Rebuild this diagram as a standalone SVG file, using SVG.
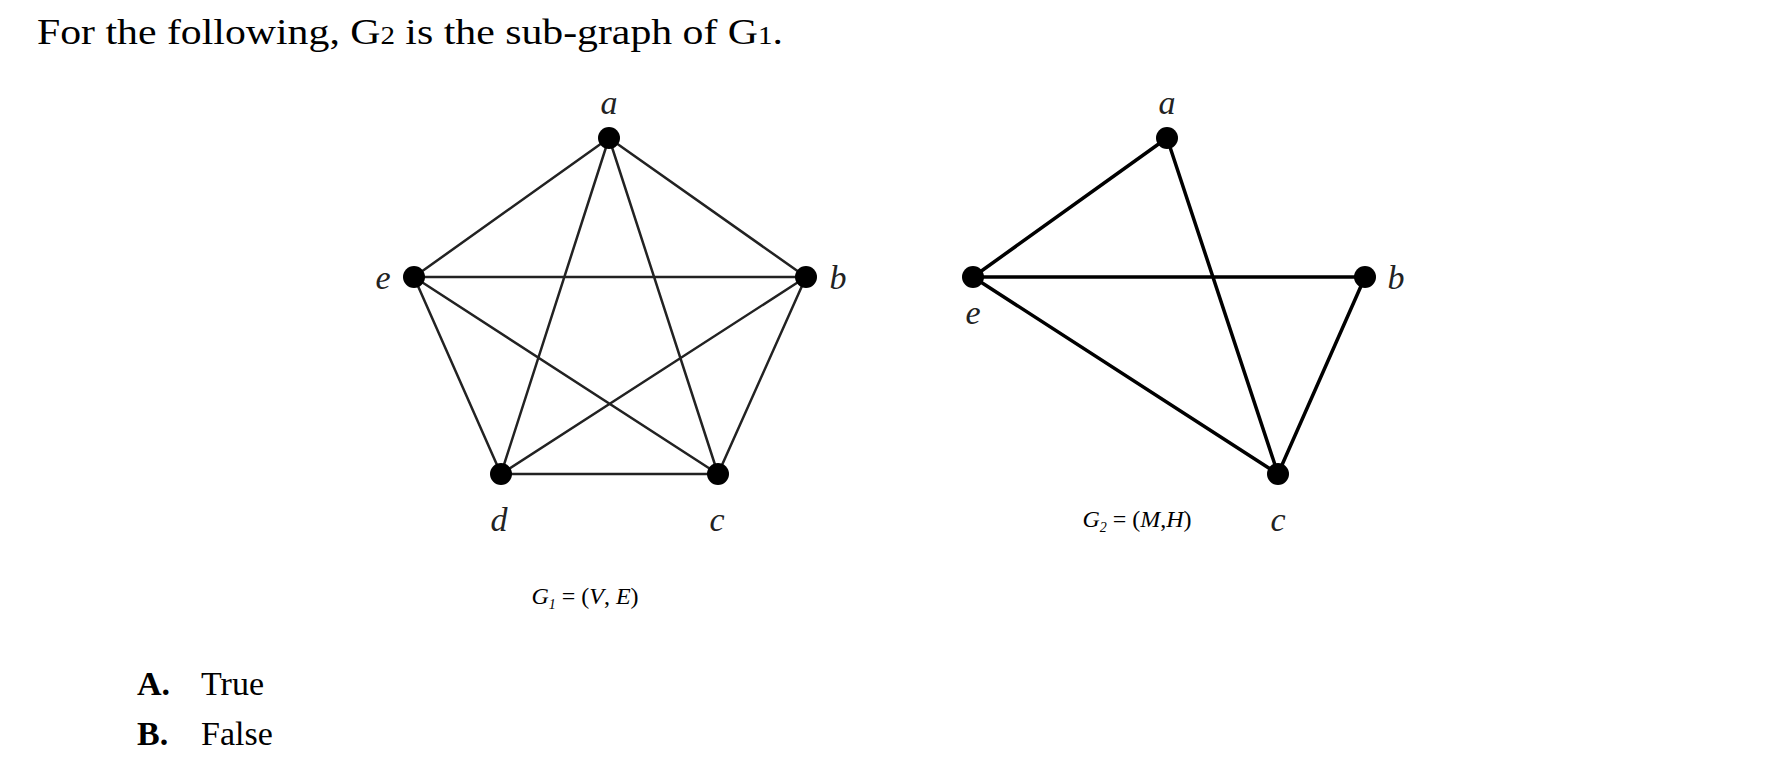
<svg xmlns="http://www.w3.org/2000/svg" width="1784" height="772" viewBox="0 0 1784 772">
<style>
.t{font-family:"Liberation Serif",serif;fill:#000}
.l{font-family:"Liberation Serif",serif;font-style:italic;font-size:34px;fill:#222}
.e1{stroke:#222;stroke-width:2.5;fill:none}
.e2{stroke:#000;stroke-width:3.5;fill:none}
.n{fill:#000}
</style>
<rect width="1784" height="772" fill="#fff"/>
<text class="t" x="37" y="44" font-size="36" textLength="746" lengthAdjust="spacingAndGlyphs">For the following, G<tspan font-size="25">2</tspan> is the sub-graph of G<tspan font-size="25">1</tspan>.</text>
<g id="connectors">
<path class="e1" d="M609,138L806,277M609,138L414,277M609,138L501,474M609,138L718,474M414,277L806,277M414,277L501,474M414,277L718,474M806,277L501,474M806,277L718,474M501,474L718,474"/>
<path class="e2" d="M1167,138L973,277M1167,138L1278,474M973,277L1365,277M973,277L1278,474M1365,277L1278,474"/>
</g>
<g id="g1-a"><circle class="n" cx="609" cy="138" r="11"/><text class="l" x="609" y="114" text-anchor="middle">a</text></g>
<g id="g1-b"><circle class="n" cx="806" cy="277" r="11"/><text class="l" x="838" y="289" text-anchor="middle">b</text></g>
<g id="g1-e"><circle class="n" cx="414" cy="277" r="11"/><text class="l" x="383" y="289" text-anchor="middle">e</text></g>
<g id="g1-d"><circle class="n" cx="501" cy="474" r="11"/><text class="l" x="499" y="531" text-anchor="middle">d</text></g>
<g id="g1-c"><circle class="n" cx="718" cy="474" r="11"/><text class="l" x="717" y="531" text-anchor="middle" font-style="normal">c</text></g>
<g id="g2-a"><circle class="n" cx="1167" cy="138" r="11"/><text class="l" x="1167" y="114" text-anchor="middle">a</text></g>
<g id="g2-b"><circle class="n" cx="1365" cy="277" r="11"/><text class="l" x="1396" y="289" text-anchor="middle">b</text></g>
<g id="g2-e"><circle class="n" cx="973" cy="277" r="11"/><text class="l" x="973" y="324" text-anchor="middle">e</text></g>
<g id="g2-c"><circle class="n" cx="1278" cy="474" r="11"/><text class="l" x="1278" y="531" text-anchor="middle" font-style="normal">c</text></g>
<text class="t" x="585" y="604" font-size="24" text-anchor="middle" font-style="italic">G<tspan font-size="14" dy="5">1</tspan><tspan dy="-5" font-style="normal"> = (</tspan>V<tspan font-style="normal">, </tspan>E<tspan font-style="normal">)</tspan></text>
<text class="t" x="1137" y="527" font-size="24" text-anchor="middle" font-style="italic">G<tspan font-size="14" dy="5">2</tspan><tspan dy="-5" font-style="normal"> = (</tspan>M<tspan font-style="normal">,</tspan>H<tspan font-style="normal">)</tspan></text>
<text class="t" x="137" y="695" font-size="34"><tspan font-weight="bold">A.</tspan><tspan x="201">True</tspan></text>
<text class="t" x="137" y="745" font-size="34"><tspan font-weight="bold">B.</tspan><tspan x="201">False</tspan></text>
</svg>
